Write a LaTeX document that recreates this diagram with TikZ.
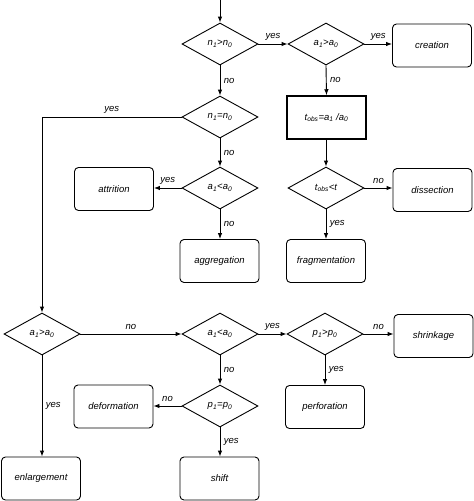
\documentclass[tikz,border=0pt]{standalone}
\usepackage{fontspec}
\setmainfont{Liberation Sans}
\usetikzlibrary{shapes.geometric,arrows.meta}
\tikzset{
  dec/.style={draw, diamond, aspect=1.8, minimum width=76pt, minimum height=42pt, inner sep=0pt, line width=0.9pt},
  res/.style={draw, rectangle, rounded corners=4pt, minimum width=79pt, minimum height=43pt, inner sep=0pt, line width=0.9pt},
  calc/.style={draw, rectangle, minimum width=79pt, minimum height=43pt, inner sep=0pt, line width=1.5pt},
  arr/.style={line width=0.9pt, -{Latex[length=6pt,width=4.5pt]}},
  lbl/.style={font=\fontsize{9.5}{10}\selectfont\itshape, inner sep=3.5pt},
}
\newcommand{\sbs}[1]{\textsubscript{#1}}
\begin{document}
\begin{tikzpicture}[x=1pt,y=-1pt, font=\fontsize{9.5}{10}\selectfont\itshape]
\useasboundingbox (0,0) rectangle (474,501);
\coordinate (start) at (220,0);
\node[dec] (d1) at (220,44) {n\sbs{1}>n\sbs{0}};
\node[dec] (d2) at (326,44) {a\sbs{1}>a\sbs{0}};
\node[res] (creation) at (432,45.5) {creation};
\node[dec] (d3) at (220,117) {n\sbs{1}=n\sbs{0}};
\node[calc] (tobs) at (326.5,117.5) {t\sbs{obs}=a\sbs{1} /a\sbs{0}};
\node[dec] (d4) at (220,188) {a\sbs{1}<a\sbs{0}};
\node[res] (attrition) at (114,189) {attrition};
\node[dec] (d5) at (326,188) {t\sbs{obs}<t};
\node[res] (dissection) at (432.5,190) {dissection};
\node[res] (aggregation) at (219.5,261) {aggregation};
\node[res] (fragmentation) at (326,261) {fragmentation};
\node[dec] (d6) at (42,334) {a\sbs{1}>a\sbs{0}};
\node[dec] (d7) at (220,334) {a\sbs{1}<a\sbs{0}};
\node[dec] (d8) at (325,334) {p\sbs{1}>p\sbs{0}};
\node[res] (shrinkage) at (433.5,336) {shrinkage};
\node[res] (perforation) at (325,407) {perforation};
\node[dec] (d9) at (220,406) {p\sbs{1}=p\sbs{0}};
\node[res] (deformation) at (113.5,406.5) {deformation};
\node[res] (enlargement) at (41,478.5) {enlargement};
\node[res] (shift) at (219.5,478.5) {shift};
\coordinate (bend) at (42,117);

\draw[arr] (start) -- (d1.north);
\draw[arr] (d1.east) -- node[lbl,above] {yes} (d2.west);
\draw[arr] (d2.east) -- node[lbl,above] {yes} (d2.east -| creation.west);
\draw[arr] (d1.south) -- node[lbl,right] {no} (d3.north);
\draw[arr] (d2.south) -- node[lbl,right] {no} (tobs.north);
\draw[arr] (d3.west) -- node[lbl,above] {yes} (bend) -- (d6.north);
\draw[arr] (d3.south) -- node[lbl,right] {no} (d4.north);
\draw[arr] (d4.west) -- node[lbl,above] {yes} (d4.west -| attrition.east);
\draw[arr] (d4.south) -- node[lbl,right] {no} (d4.south |- aggregation.north);
\draw[arr] (tobs.south -| d5.north) -- (d5.north);
\draw[arr] (d5.east) -- node[lbl,above] {no} (d5.east -| dissection.west);
\draw[arr] (d5.south) -- node[lbl,right] {yes} (fragmentation.north -| d5.south);
\draw[arr] (d6.east) -- node[lbl,above] {no} (d7.west);
\draw[arr] (d6.south) -- node[lbl,right] {yes} (d6.south |- enlargement.north);
\draw[arr] (d7.east) -- node[lbl,above] {yes} (d8.west);
\draw[arr] (d8.east) -- node[lbl,above] {no} (d8.east -| shrinkage.west);
\draw[arr] (d8.south) -- node[lbl,right] {yes} (perforation.north);
\draw[arr] (d7.south) -- node[lbl,right] {no} (d9.north);
\draw[arr] (d9.west) -- node[lbl,above] {no} (d9.west -| deformation.east);
\draw[arr] (d9.south) -- node[lbl,right] {yes} (d9.south |- shift.north);
\end{tikzpicture}
\end{document}
